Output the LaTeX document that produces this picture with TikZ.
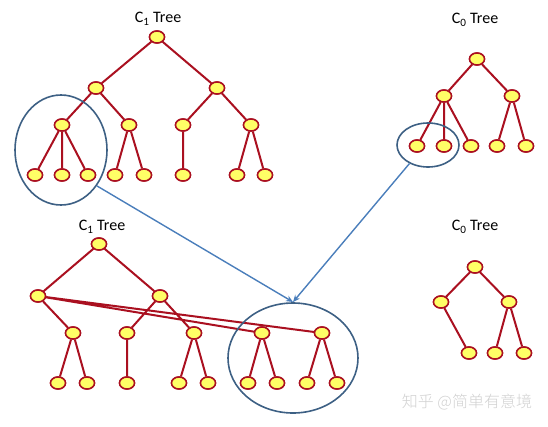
\documentclass[tikz,border=0pt]{standalone}
\usepackage{fontspec}
\setmainfont{Carlito}
\newfontfamily\cjk{Noto Sans CJK SC Light}
\usetikzlibrary{arrows.meta,shapes.geometric}
\definecolor{edgered}{HTML}{AA1020}
\definecolor{nodefill}{HTML}{FFFF66}
\definecolor{ringblue}{HTML}{3D6084}
\definecolor{arrowblue}{HTML}{4A7EBB}
\begin{document}
\begin{tikzpicture}[x=1pt,y=-1pt,
  nd/.style={ellipse,draw=edgered,fill=nodefill,line width=1.5pt,minimum width=15pt,minimum height=12pt,inner sep=0pt},
  ed/.style={draw=edgered,line width=2pt},
  ring/.style={draw=ringblue,line width=1.6pt},
  arr/.style={draw=arrowblue,line width=1.4pt,-{Stealth[length=7pt,width=6pt]}},
  title/.style={font=\fontsize{16}{18}\selectfont,text=black}]
\useasboundingbox (0,0) rectangle (548,426);
% Top-left C1 tree
\node[title] (t1) at (158,19) {C\textsubscript{1} Tree};
\node[nd] (a) at (157,37) {};
\node[nd] (a1) at (96,88) {};
\node[nd] (a2) at (217,88) {};
\node[nd] (a11) at (62,125) {};
\node[nd] (a12) at (129,125) {};
\node[nd] (a21) at (183,125) {};
\node[nd] (a22) at (251,125) {};
\node[nd] (l1) at (35,175) {};
\node[nd] (l2) at (62,175) {};
\node[nd] (l3) at (88,175) {};
\node[nd] (l4) at (115,175) {};
\node[nd] (l5) at (144,175) {};
\node[nd] (l6) at (183,175) {};
\node[nd] (l7) at (237,175) {};
\node[nd] (l8) at (265,175) {};
\path[ed] (a)--(a1) (a)--(a2) (a1)--(a11) (a1)--(a12) (a2)--(a21) (a2)--(a22)
  (a11)--(l1) (a11)--(l2) (a11)--(l3) (a12)--(l4) (a12)--(l5) (a21)--(l6) (a22)--(l7) (a22)--(l8);
% Top-right C0 tree
\node[title] (t2) at (475,20) {C\textsubscript{0} Tree};
\node[nd] (b) at (477,59) {};
\node[nd] (b1) at (444,96) {};
\node[nd] (b2) at (512,96) {};
\node[nd] (m1) at (417,146) {};
\node[nd] (m2) at (444,146) {};
\node[nd] (m3) at (471,146) {};
\node[nd] (m4) at (497,146) {};
\node[nd] (m5) at (526,146) {};
\path[ed] (b)--(b1) (b)--(b2) (b1)--(m1) (b1)--(m2) (b1)--(m3) (b2)--(m4) (b2)--(m5);
% Bottom-left C1 tree
\node[title] (t3) at (102,227) {C\textsubscript{1} Tree};
\node[nd] (c) at (99,244) {};
\node[nd] (c1) at (38,296) {};
\node[nd] (c2) at (160,296) {};
\node[nd] (c11) at (73,333) {};
\node[nd] (c21) at (127,333) {};
\node[nd] (c22) at (194,333) {};
\node[nd] (c13) at (262,333) {};
\node[nd] (c14) at (322,333) {};
\node[nd] (n1) at (58,383) {};
\node[nd] (n2) at (87,383) {};
\node[nd] (n3) at (127,383) {};
\node[nd] (n4) at (179,383) {};
\node[nd] (n5) at (208,383) {};
\node[nd] (n6) at (248,383) {};
\node[nd] (n7) at (277,383) {};
\node[nd] (n8) at (307,383) {};
\node[nd] (n9) at (337,383) {};
\path[ed] (c)--(c1) (c)--(c2) (c1)--(c11) (c1)--(c13) (c1)--(c14) (c2)--(c21) (c2)--(c22)
  (c11)--(n1) (c11)--(n2) (c21)--(n3) (c22)--(n4) (c22)--(n5) (c13)--(n6) (c13)--(n7) (c14)--(n8) (c14)--(n9);
% Bottom-right C0 tree
\node[title] (t4) at (475,227) {C\textsubscript{0} Tree};
\node[nd] (d) at (475,267) {};
\node[nd] (d1) at (441,302) {};
\node[nd] (d2) at (509,302) {};
\node[nd] (p1) at (469,353) {};
\node[nd] (p2) at (495,353) {};
\node[nd] (p3) at (524,353) {};
\path[ed] (d)--(d1) (d)--(d2) (d1)--(p1) (d2)--(p2) (d2)--(p3);
% redraw nodes over edges
\foreach \n/\x/\y in {a/157/37,a1/96/88,a2/217/88,a11/62/125,a12/129/125,a21/183/125,a22/251/125,
  l1/35/175,l2/62/175,l3/88/175,l4/115/175,l5/144/175,l6/183/175,l7/237/175,l8/265/175,
  b/477/59,b1/444/96,b2/512/96,m1/417/146,m2/444/146,m3/471/146,m4/497/146,m5/526/146,
  c/99/244,c1/38/296,c2/160/296,c11/73/333,c21/127/333,c22/194/333,c13/262/333,c14/322/333,
  n1/58/383,n2/87/383,n3/127/383,n4/179/383,n5/208/383,n6/248/383,n7/277/383,n8/307/383,n9/337/383,
  d/475/267,d1/441/302,d2/509/302,p1/469/353,p2/495/353,p3/524/353}
  \node[nd] at (\x,\y) {};
% Rings
\node[ring,ellipse,minimum width=92pt,minimum height=110pt,inner sep=0pt] (r1) at (61,150) {};
\node[ring,ellipse,minimum width=62pt,minimum height=44pt,inner sep=0pt] (r2) at (428,145) {};
\node[ring,ellipse,minimum width=130pt,minimum height=110pt,inner sep=0pt] (r3) at (293,358) {};
% Arrows
\coordinate (tip) at (293,302);
\draw[arr] (r1.-45) -- (tip);
\draw[arr] (r2.-135) -- (tip);
% Watermark
\node[font=\cjk\fontsize{16}{18}\selectfont,text=black!18] (wm) at (467,402) {知乎 @简单有意境};
\end{tikzpicture}
\end{document}
